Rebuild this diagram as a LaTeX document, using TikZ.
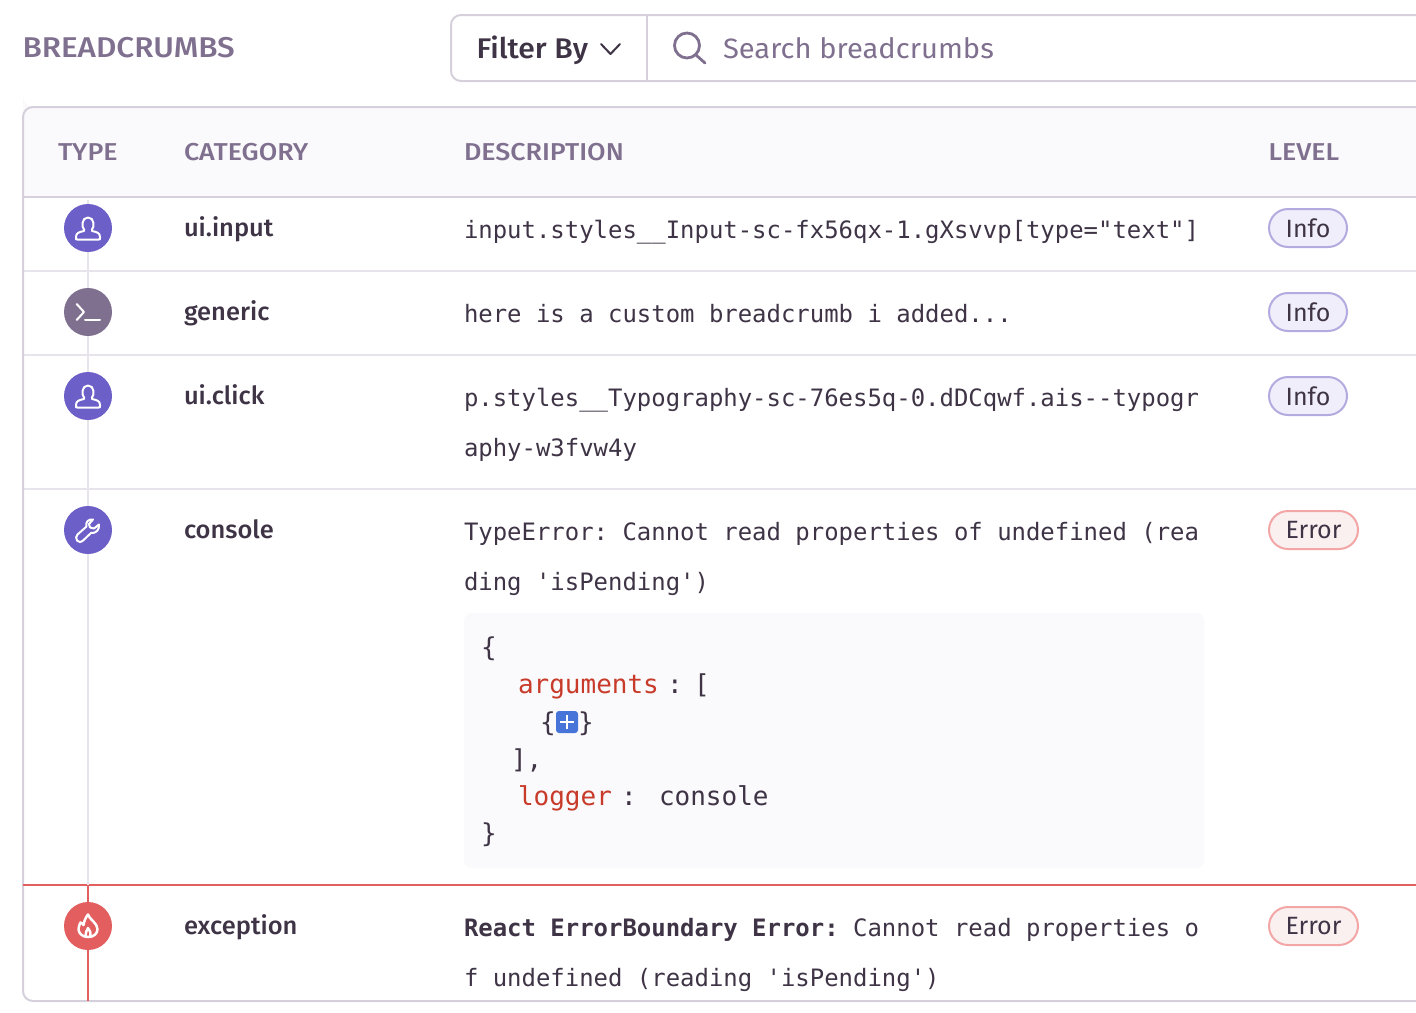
\documentclass[tikz,border=0pt]{standalone}
\usepackage{fontspec}
\setmainfont{Fira Sans}
\newfontfamily\medfont[FakeStretch=1.10]{Fira Sans Medium}
\newfontfamily\filterfont[FakeStretch=1.06]{Fira Sans Medium}
\newfontfamily\catfont[FakeStretch=1.02]{Fira Sans Medium}
\newfontfamily\searchfont[FakeStretch=1.04]{Fira Sans}
\newfontfamily\monof{DejaVu Sans Mono}
\definecolor{ink}{HTML}{3E3446}
\definecolor{muted}{HTML}{80708F}
\definecolor{rule}{HTML}{D5D0DC}
\definecolor{rowline}{HTML}{E7E5EB}
\definecolor{panel}{HTML}{FAF9FB}
\definecolor{purple}{HTML}{6C5FC7}
\definecolor{redline}{HTML}{E35F5F}
\definecolor{codered}{HTML}{C83B2A}
\definecolor{infofill}{HTML}{F0EEFA}
\definecolor{infoedge}{HTML}{B3ABDF}
\definecolor{errfill}{HTML}{FBF0F0}
\definecolor{erredge}{HTML}{F3A6A6}
\definecolor{plusblue}{HTML}{4674D8}
\tikzset{
  x=0.5pt,y=-0.5pt,
  txt/.style={anchor=base west,inner sep=0pt,outer sep=0pt,text=ink},
  hdr/.style={txt,text=muted,font=\medfont\fontsize{12.2}{14}\selectfont},
  cat/.style={txt,font=\catfont\fontsize{12.5}{15}\selectfont},
  desc/.style={txt,font=\monof\fontsize{11.97}{14}\selectfont},
  code/.style={txt,font=\monof\fontsize{13}{15}\selectfont},
  key/.style={code,text=codered},
  dot/.style={circle,minimum size=24pt,inner sep=0pt,outer sep=0pt,fill=#1},
  pill/.style n args={3}{rounded corners=9.5pt,draw=#2,fill=#1,line width=1pt,minimum height=19pt,minimum width=#3,inner sep=0pt,text=ink,font=\fontsize{12.5}{15}\selectfont},
  icon/.style={draw=white,line width=1pt,line cap=round,line join=round},
  flame/.style={icon,line width=1.25pt},
  pics/usericon/.style={code={\draw[icon] (-4,1.5) .. controls (-6.5,-1) and (-6.5,-10.5) .. (0,-10.5) .. controls (6.5,-10.5) and (6.5,-1) .. (4,1.5) -- (4,3) .. controls (9,4) and (12,5) .. (12,9) -- (12,10) .. controls (12,11.5) .. (10.5,11.5) -- (-10.5,11.5) .. controls (-12,11.5) .. (-12,10) -- (-12,9) .. controls (-12,5) and (-9,4) .. (-4,3) -- cycle;}},
  pics/termicon/.style={code={\draw[icon] (-11.3,-8) -- (-4,0) -- (-11.3,8); \draw[icon] (-3,7.7) -- (12,7.7);}},
  pics/wrenchicon/.style={code={\draw[icon] (-10.5,4.5) -- (-1.5,-3.5) .. controls (-2.5,-8) and (0,-11) .. (5,-10.5) -- (1,-6) -- (2,-2.5) -- (6,-1.5) -- (11,-5.5) .. controls (11.5,0) and (8,3.5) .. (3,3) -- (-5.5,11) .. controls (-7,12.5) and (-9,12.5) .. (-11,10.5) .. controls (-12.5,8.5) and (-12,6) .. (-10.5,4.5) -- cycle;}},
  pics/flameicon/.style={code={\draw[flame] (0,11) .. controls (-6,11) and (-9.5,7) .. (-9.5,3) .. controls (-9.5,0) and (-8,-2) .. (-7.5,-3.5) .. controls (-6,-3) and (-5,-2) .. (-4.5,-1) .. controls (-4,-5) and (-2,-9) .. (0,-11.5) .. controls (1,-7) and (9.5,-3) .. (9.5,3) .. controls (9.5,7.5) and (6,11) .. (0,11) -- cycle; \draw[flame] (-2.5,10) .. controls (-3,7) and (-1,4.5) .. (0,2) .. controls (1.5,4.5) and (3.5,7) .. (2.5,10);}}
}
\begin{document}
\frenchspacing
\begin{tikzpicture}
\useasboundingbox (0,0) rectangle (1416,1012);
\fill[white] (0,0) rectangle (1416,1012);
% header panel
\fill[panel] (1416,107) -- (33,107) arc[start angle=90,end angle=180,radius=10] -- (23,197) -- (1416,197) -- cycle;
% rows
\draw[rowline,line width=1pt] (23,271) -- (1416,271) (23,355) -- (1416,355) (23,489) -- (1416,489);
\draw[rule,line width=1pt] (23,197) -- (1416,197);
\draw[rule,line width=1pt,rounded corners=5pt] (1416,107) -- (23,107) -- (23,1001) -- (1416,1001);
\draw[redline,line width=1pt] (23,885) -- (1416,885);
% top bar
\node[txt,text=muted,font=\medfont\fontsize{14.3}{16}\selectfont] (title) at (22.5,57) {BREADCRUMBS};
\draw[rule,line width=1pt,rounded corners=5pt] (1416,15) -- (451,15) -- (451,81) -- (1416,81);
\draw[rule,line width=1pt] (647,15) -- (647,81);
\node[txt,text=ink,font=\filterfont\fontsize{14.2}{16}\selectfont] (filter) at (476.5,58) {Filter By};
\draw[ink,line width=1pt,line cap=round,line join=round] (601,44) -- (610.5,54) -- (620,44);
\draw[muted,line width=1.4pt,line cap=round] (687,45.5) circle[radius=12.5] (696,55) -- (705,63);
\node[txt,text=muted,font=\searchfont\fontsize{14}{16}\selectfont] (search) at (723,58) {Search breadcrumbs};
% header labels
\node[hdr] (h1) at (58,160) {TYPE};
\node[hdr] (h2) at (184,160) {CATEGORY};
\node[hdr] (h3) at (464,160) {DESCRIPTION};
\node[hdr] (h4) at (1268.5,160) {LEVEL};
% dots
\node[dot=purple] (d1) at (88,228) {};
\node[dot=muted] (d2) at (88,312) {};
\node[dot=purple] (d3) at (88,396) {};
\node[dot=purple] (d4) at (88,530) {};
\node[dot=redline] (d5) at (88,926) {};
\coordinate (tlstart) at (88,200);
\coordinate (tlred) at (88,885);
\coordinate (tlend) at (88,1001);
\draw[rowline,line width=1pt] (tlstart) -- (d1) (d1) -- (d2) (d2) -- (d3) (d3) -- (d4) (d4) -- (tlred);
\draw[redline,line width=1pt] (tlred) -- (d5) (d5) -- (tlend);
\pic at (88,228) {usericon};
\pic at (88,312) {termicon};
\pic at (88,396) {usericon};
\pic at (88,530) {wrenchicon};
\pic at (88,926) {flameicon};
% categories
\node[cat] (c1) at (184,236) {ui.input};
\node[cat] (c2) at (184,320) {generic};
\node[cat] (c3) at (184,404) {ui.click};
\node[cat] (c4) at (184,538) {console};
\node[cat] (c5) at (184,934) {exception};
% descriptions
\node[desc] (t1) at (464,238) {input.styles\_\_Input-sc-fx56qx-1.gXsvvp[type="text"]};
\node[desc] (t2) at (464,322) {here is a custom breadcrumb i added...};
\node[desc] (t3) at (464,406) {p.styles\_\_Typography-sc-76es5q-0.dDCqwf.ais--typogr};
\node[desc] (t3b) at (464,456) {aphy-w3fvw4y};
\node[desc] (t4) at (464,540) {TypeError: Cannot read properties of undefined (rea};
\node[desc] (t4b) at (464,590) {ding 'isPending')};
\node[desc] (t5) at (464,936) {{\bfseries React ErrorBoundary Error:} Cannot read properties o};
\node[desc] (t5b) at (464,986) {f undefined (reading 'isPending')};
% code block
\fill[panel] (464,613) [rounded corners=4pt] rectangle (1204,868);
\node[code] (k1) at (481,656) {\{};
\node[key] (k2) at (518,693) {arguments};
\node[code] (k3) at (667,693) {:};
\node[code] (k4) at (694,693) {[};
\node[code] (k5) at (540,731) {\{};
\node[fill=plusblue,rounded corners=1.5pt,minimum size=11pt,inner sep=0pt] (plus) at (567,722) {};
\draw[white,line width=0.6pt] (plus.center) ++(-7,0) -- ++(14,0) (plus.center) ++(0,-7) -- ++(0,14);
\node[code] (k6) at (578,731) {\}};
\node[code] (k7) at (511,768) {],};
\node[key] (k8) at (518,805) {logger};
\node[code] (k9) at (621,805) {:};
\node[code] (k10) at (659,805) {console};
\node[code] (k11) at (481,842) {\}};
% pills
\node[pill={infofill}{infoedge}{39pt}] (p1) at (1308,228) {Info};
\node[pill={infofill}{infoedge}{39pt}] (p2) at (1308,312) {Info};
\node[pill={infofill}{infoedge}{39pt}] (p3) at (1308,396) {Info};
\node[pill={errfill}{erredge}{44.5pt}] (p4) at (1313.5,530) {Error};
\node[pill={errfill}{erredge}{44.5pt}] (p5) at (1313.5,926) {Error};
\end{tikzpicture}
\end{document}
